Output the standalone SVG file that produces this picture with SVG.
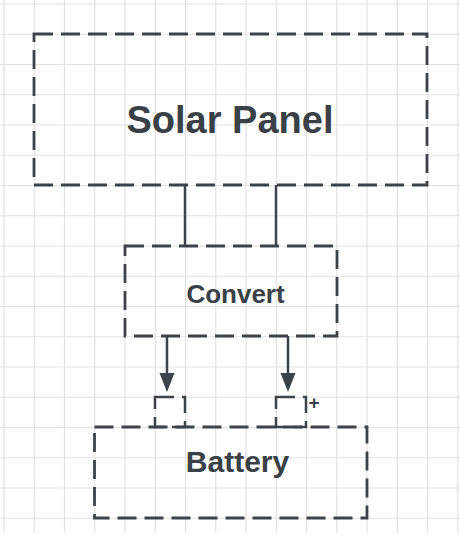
<svg xmlns="http://www.w3.org/2000/svg" width="460" height="533" viewBox="0 0 460 533">
  <defs>
    <style>
      .grid { stroke: #e2e2e2; stroke-width: 1.2; fill: none; }
      .box { fill: none; stroke: #3d4449; stroke-width: 2.8; stroke-dasharray: 19 8; }
      .term { fill: none; stroke: #3d4449; stroke-width: 2.5; stroke-dasharray: 19 8; }
      .conn { fill: none; stroke: #3d4449; stroke-width: 2.5; }
      .head { fill: #3d4449; }
      .lbl { font-family: "Liberation Sans", Arial, sans-serif; font-weight: bold; fill: #394147; text-anchor: middle; }
    </style>
  </defs>
  <rect x="0" y="0" width="460" height="533" fill="#ffffff"/>
  <g id="grid">
    <path class="grid" d="M4,0V533 M34.25,0V533 M64.5,0V533 M94.75,0V533 M125,0V533 M155.25,0V533 M185.5,0V533 M215.75,0V533 M246,0V533 M276.25,0V533 M306.5,0V533 M336.75,0V533 M367,0V533 M397.25,0V533 M427.5,0V533 M457.75,0V533"/>
    <path class="grid" d="M0,4H460 M0,34.25H460 M0,64.5H460 M0,94.75H460 M0,125H460 M0,155.25H460 M0,185.5H460 M0,215.75H460 M0,246H460 M0,276.25H460 M0,306.5H460 M0,336.75H460 M0,367H460 M0,397.25H460 M0,427.5H460 M0,457.75H460 M0,488H460 M0,518.25H460"/>
  </g>
  <g id="connectors">
    <path class="conn" d="M185,185V246"/>
    <path class="conn" d="M276,185V246"/>
    <path class="conn" d="M167,336V373"/>
    <path class="head" d="M159.5,373 L174.5,373 L167,392 Z"/>
    <path class="conn" d="M288,336V373"/>
    <path class="head" d="M280.5,373 L295.5,373 L288,392 Z"/>
  </g>
  <g id="solar-panel">
    <rect class="box" x="34" y="34" width="393" height="151"/>
    <text class="lbl" x="230" y="133" font-size="38">Solar Panel</text>
  </g>
  <g id="convert">
    <rect class="box" x="125" y="246" width="212" height="90"/>
    <text class="lbl" x="235.5" y="303" font-size="26">Convert</text>
  </g>
  <g id="terminal-negative">
    <rect class="term" x="155" y="397" width="30" height="30"/>
  </g>
  <g id="terminal-positive">
    <rect class="term" x="276" y="397" width="30" height="30"/>
    <text class="lbl" x="314" y="409" font-size="19">+</text>
  </g>
  <g id="battery">
    <rect class="box" x="94.5" y="427" width="272.5" height="91"/>
    <text class="lbl" x="237.5" y="472" font-size="30">Battery</text>
  </g>
</svg>
